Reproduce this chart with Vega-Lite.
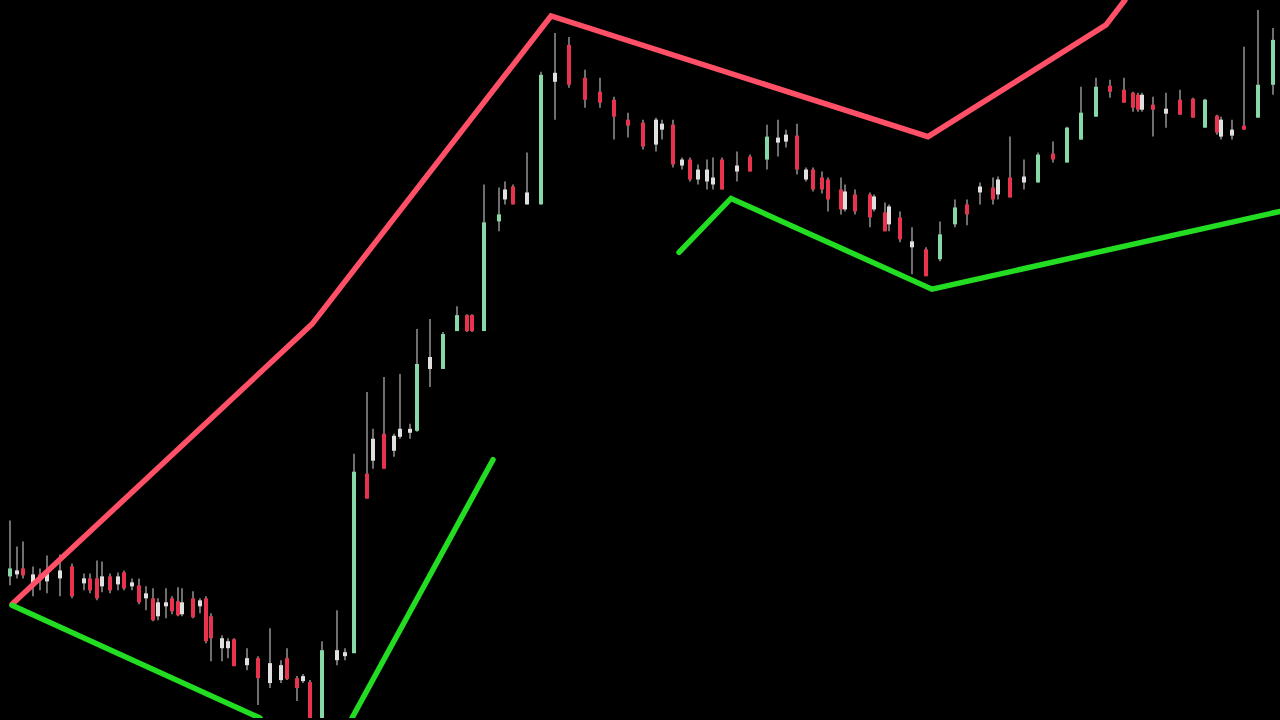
{
  "$schema": "https://vega.github.io/schema/vega-lite/v6.json",
  "width": 1280,
  "height": 720,
  "autosize": {"type": "fit", "contains": "padding"},
  "padding": 0,
  "background": "#000000",
  "config": {"view": {"stroke": null}, "axis": {"disable": true}},
  "datasets": {
    "candles": [
      {"t":10,"h":522,"l":587,"top":570,"bot":578,"dir":"up"},
      {"t":17,"h":548,"l":580,"top":572,"bot":576,"dir":"doji"},
      {"t":23,"h":543,"l":580,"top":570,"bot":577,"dir":"down"},
      {"t":33,"h":568,"l":598,"top":576,"bot":588,"dir":"doji"},
      {"t":40,"h":570,"l":592,"top":576,"bot":582,"dir":"down"},
      {"t":47,"h":557,"l":595,"top":575,"bot":583,"dir":"doji"},
      {"t":60,"h":556,"l":598,"top":572,"bot":580,"dir":"doji"},
      {"t":72,"h":565,"l":600,"top":568,"bot":598,"dir":"down"},
      {"t":84,"h":575,"l":592,"top":580,"bot":585,"dir":"doji"},
      {"t":90,"h":575,"l":595,"top":580,"bot":592,"dir":"down"},
      {"t":97,"h":562,"l":602,"top":580,"bot":600,"dir":"down"},
      {"t":102,"h":563,"l":594,"top":578,"bot":588,"dir":"doji"},
      {"t":110,"h":575,"l":595,"top":578,"bot":592,"dir":"down"},
      {"t":118,"h":574,"l":592,"top":578,"bot":586,"dir":"doji"},
      {"t":124,"h":572,"l":592,"top":574,"bot":590,"dir":"down"},
      {"t":132,"h":580,"l":592,"top":584,"bot":588,"dir":"doji"},
      {"t":139,"h":580,"l":606,"top":587,"bot":604,"dir":"down"},
      {"t":146,"h":588,"l":612,"top":595,"bot":600,"dir":"doji"},
      {"t":153,"h":590,"l":623,"top":600,"bot":622,"dir":"down"},
      {"t":158,"h":600,"l":622,"top":604,"bot":618,"dir":"doji"},
      {"t":166,"h":590,"l":620,"top":604,"bot":608,"dir":"doji"},
      {"t":172,"h":598,"l":616,"top":600,"bot":613,"dir":"down"},
      {"t":178,"h":589,"l":618,"top":603,"bot":617,"dir":"down"},
      {"t":182,"h":590,"l":618,"top":604,"bot":616,"dir":"doji"},
      {"t":193,"h":593,"l":620,"top":600,"bot":619,"dir":"down"},
      {"t":200,"h":600,"l":615,"top":602,"bot":608,"dir":"doji"},
      {"t":206,"h":598,"l":645,"top":600,"bot":643,"dir":"down"},
      {"t":211,"h":615,"l":663,"top":618,"bot":640,"dir":"down"},
      {"t":222,"h":637,"l":663,"top":640,"bot":650,"dir":"doji"},
      {"t":228,"h":640,"l":660,"top":643,"bot":650,"dir":"doji"},
      {"t":234,"h":640,"l":668,"top":641,"bot":668,"dir":"down"},
      {"t":247,"h":650,"l":672,"top":660,"bot":667,"dir":"doji"},
      {"t":258,"h":658,"l":707,"top":660,"bot":680,"dir":"down"},
      {"t":270,"h":630,"l":690,"top":665,"bot":685,"dir":"doji"},
      {"t":281,"h":662,"l":685,"top":667,"bot":682,"dir":"doji"},
      {"t":287,"h":650,"l":682,"top":660,"bot":681,"dir":"down"},
      {"t":297,"h":678,"l":703,"top":680,"bot":690,"dir":"down"},
      {"t":303,"h":676,"l":685,"top":678,"bot":683,"dir":"doji"},
      {"t":310,"h":682,"l":720,"top":684,"bot":720,"dir":"down"},
      {"t":322,"h":643,"l":720,"top":652,"bot":720,"dir":"up"},
      {"t":337,"h":612,"l":667,"top":652,"bot":662,"dir":"doji"},
      {"t":345,"h":650,"l":662,"top":654,"bot":658,"dir":"doji"},
      {"t":354,"h":455,"l":655,"top":473,"bot":655,"dir":"up"},
      {"t":367,"h":393,"l":500,"top":475,"bot":500,"dir":"down"},
      {"t":373,"h":430,"l":470,"top":440,"bot":462,"dir":"doji"},
      {"t":384,"h":378,"l":470,"top":435,"bot":470,"dir":"down"},
      {"t":394,"h":435,"l":458,"top":437,"bot":452,"dir":"doji"},
      {"t":400,"h":375,"l":440,"top":430,"bot":438,"dir":"doji"},
      {"t":410,"h":425,"l":440,"top":430,"bot":434,"dir":"doji"},
      {"t":417,"h":330,"l":433,"top":365,"bot":432,"dir":"up"},
      {"t":430,"h":320,"l":388,"top":358,"bot":370,"dir":"doji"},
      {"t":443,"h":333,"l":370,"top":335,"bot":370,"dir":"up"},
      {"t":457,"h":307,"l":332,"top":316,"bot":332,"dir":"up"},
      {"t":467,"h":315,"l":333,"top":316,"bot":332,"dir":"down"},
      {"t":472,"h":315,"l":333,"top":316,"bot":332,"dir":"down"},
      {"t":484,"h":185,"l":332,"top":223,"bot":332,"dir":"up"},
      {"t":499,"h":188,"l":232,"top":215,"bot":222,"dir":"up"},
      {"t":505,"h":182,"l":205,"top":190,"bot":200,"dir":"doji"},
      {"t":513,"h":185,"l":205,"top":187,"bot":205,"dir":"down"},
      {"t":527,"h":153,"l":205,"top":193,"bot":205,"dir":"doji"},
      {"t":541,"h":72,"l":205,"top":75,"bot":205,"dir":"up"},
      {"t":555,"h":33,"l":120,"top":73,"bot":82,"dir":"doji"},
      {"t":569,"h":37,"l":88,"top":45,"bot":85,"dir":"down"},
      {"t":585,"h":70,"l":108,"top":78,"bot":100,"dir":"down"},
      {"t":600,"h":78,"l":108,"top":92,"bot":103,"dir":"down"},
      {"t":614,"h":97,"l":140,"top":100,"bot":117,"dir":"down"},
      {"t":628,"h":113,"l":138,"top":120,"bot":126,"dir":"down"},
      {"t":643,"h":120,"l":150,"top":123,"bot":147,"dir":"down"},
      {"t":656,"h":118,"l":152,"top":120,"bot":145,"dir":"doji"},
      {"t":662,"h":120,"l":140,"top":124,"bot":130,"dir":"doji"},
      {"t":673,"h":120,"l":168,"top":125,"bot":165,"dir":"down"},
      {"t":682,"h":158,"l":170,"top":160,"bot":166,"dir":"doji"},
      {"t":690,"h":158,"l":182,"top":160,"bot":180,"dir":"down"},
      {"t":698,"h":165,"l":185,"top":170,"bot":180,"dir":"doji"},
      {"t":707,"h":160,"l":190,"top":170,"bot":182,"dir":"doji"},
      {"t":713,"h":158,"l":190,"top":178,"bot":185,"dir":"doji"},
      {"t":722,"h":158,"l":190,"top":160,"bot":190,"dir":"down"},
      {"t":737,"h":152,"l":182,"top":166,"bot":172,"dir":"doji"},
      {"t":750,"h":155,"l":172,"top":157,"bot":172,"dir":"down"},
      {"t":767,"h":125,"l":170,"top":137,"bot":160,"dir":"up"},
      {"t":778,"h":120,"l":157,"top":138,"bot":143,"dir":"doji"},
      {"t":786,"h":130,"l":148,"top":135,"bot":142,"dir":"doji"},
      {"t":797,"h":124,"l":175,"top":136,"bot":170,"dir":"down"},
      {"t":806,"h":168,"l":182,"top":170,"bot":180,"dir":"doji"},
      {"t":813,"h":168,"l":192,"top":170,"bot":190,"dir":"down"},
      {"t":822,"h":172,"l":194,"top":178,"bot":190,"dir":"down"},
      {"t":828,"h":178,"l":212,"top":180,"bot":200,"dir":"down"},
      {"t":841,"h":178,"l":215,"top":190,"bot":210,"dir":"down"},
      {"t":845,"h":185,"l":212,"top":192,"bot":210,"dir":"doji"},
      {"t":855,"h":190,"l":215,"top":195,"bot":212,"dir":"down"},
      {"t":870,"h":193,"l":228,"top":195,"bot":218,"dir":"down"},
      {"t":874,"h":195,"l":212,"top":197,"bot":210,"dir":"doji"},
      {"t":885,"h":203,"l":232,"top":213,"bot":232,"dir":"down"},
      {"t":889,"h":205,"l":232,"top":207,"bot":225,"dir":"doji"},
      {"t":900,"h":212,"l":243,"top":218,"bot":240,"dir":"down"},
      {"t":912,"h":228,"l":275,"top":242,"bot":248,"dir":"doji"},
      {"t":926,"h":248,"l":277,"top":250,"bot":277,"dir":"down"},
      {"t":940,"h":222,"l":262,"top":235,"bot":260,"dir":"up"},
      {"t":955,"h":200,"l":228,"top":208,"bot":225,"dir":"up"},
      {"t":967,"h":200,"l":226,"top":205,"bot":215,"dir":"down"},
      {"t":980,"h":183,"l":205,"top":187,"bot":193,"dir":"doji"},
      {"t":993,"h":178,"l":205,"top":188,"bot":200,"dir":"down"},
      {"t":998,"h":177,"l":200,"top":180,"bot":195,"dir":"doji"},
      {"t":1010,"h":137,"l":198,"top":178,"bot":198,"dir":"down"},
      {"t":1024,"h":160,"l":190,"top":177,"bot":183,"dir":"doji"},
      {"t":1038,"h":153,"l":183,"top":155,"bot":183,"dir":"up"},
      {"t":1053,"h":142,"l":163,"top":154,"bot":160,"dir":"down"},
      {"t":1067,"h":127,"l":163,"top":128,"bot":163,"dir":"up"},
      {"t":1081,"h":87,"l":140,"top":113,"bot":140,"dir":"up"},
      {"t":1096,"h":78,"l":117,"top":87,"bot":117,"dir":"up"},
      {"t":1110,"h":80,"l":98,"top":86,"bot":92,"dir":"down"},
      {"t":1124,"h":78,"l":103,"top":90,"bot":103,"dir":"down"},
      {"t":1133,"h":92,"l":112,"top":93,"bot":108,"dir":"down"},
      {"t":1138,"h":93,"l":112,"top":95,"bot":110,"dir":"down"},
      {"t":1142,"h":93,"l":112,"top":95,"bot":110,"dir":"doji"},
      {"t":1153,"h":97,"l":137,"top":105,"bot":110,"dir":"down"},
      {"t":1166,"h":93,"l":128,"top":109,"bot":114,"dir":"doji"},
      {"t":1180,"h":90,"l":115,"top":100,"bot":115,"dir":"down"},
      {"t":1193,"h":98,"l":118,"top":99,"bot":118,"dir":"down"},
      {"t":1205,"h":99,"l":128,"top":100,"bot":128,"dir":"up"},
      {"t":1217,"h":115,"l":135,"top":116,"bot":133,"dir":"down"},
      {"t":1221,"h":117,"l":140,"top":120,"bot":137,"dir":"doji"},
      {"t":1232,"h":120,"l":140,"top":130,"bot":136,"dir":"doji"},
      {"t":1244,"h":47,"l":130,"top":126,"bot":130,"dir":"down"},
      {"t":1258,"h":10,"l":118,"top":85,"bot":118,"dir":"up"},
      {"t":1273,"h":28,"l":95,"top":40,"bot":85,"dir":"up"}
    ],
    "lines": [
      {"series":"resistance","i":0,"t":12,"y":606},
      {"series":"resistance","i":1,"t":312,"y":325},
      {"series":"resistance","i":2,"t":551,"y":16},
      {"series":"resistance","i":3,"t":928,"y":137},
      {"series":"resistance","i":4,"t":1106,"y":25},
      {"series":"resistance","i":5,"t":1125,"y":0},
      {"series":"support1","i":0,"t":12,"y":607},
      {"series":"support1","i":1,"t":260,"y":720},
      {"series":"support2","i":0,"t":352,"y":720},
      {"series":"support2","i":1,"t":493,"y":461},
      {"series":"support3","i":0,"t":679,"y":253},
      {"series":"support3","i":1,"t":731,"y":199},
      {"series":"support3","i":2,"t":932,"y":290},
      {"series":"support3","i":3,"t":1280,"y":212}
    ]
  },
  "layer": [
    {
      "data": {"name": "candles"},
      "mark": {"type": "rule", "strokeWidth": 1.2, "color": "#d9d9d9", "opacity": 0.85},
      "encoding": {
        "x": {"field": "t", "type": "quantitative", "scale": {"domain": [0, 1280], "nice": false, "zero": false}},
        "y": {"field": "h", "type": "quantitative", "scale": {"domain": [0, 720], "nice": false, "zero": false, "reverse": true}},
        "y2": {"field": "l"}
      }
    },
    {
      "data": {"name": "candles"},
      "mark": {"type": "rule", "strokeWidth": 4, "strokeCap": "butt"},
      "encoding": {
        "x": {"field": "t", "type": "quantitative"},
        "y": {"field": "top", "type": "quantitative"},
        "y2": {"field": "bot"},
        "color": {"field": "dir", "type": "nominal", "legend": null,
          "scale": {"domain": ["up", "down", "doji"], "range": ["#86d8a6", "#e8334f", "#e0e0e0"]}}
      }
    },
    {
      "data": {"name": "lines"},
      "mark": {"type": "line", "strokeWidth": 5.5, "strokeCap": "round", "strokeJoin": "miter", "clip": true},
      "encoding": {
        "x": {"field": "t", "type": "quantitative"},
        "y": {"field": "y", "type": "quantitative"},
        "order": {"field": "i", "type": "quantitative"},
        "detail": {"field": "series", "type": "nominal"},
        "stroke": {"field": "series", "type": "nominal", "legend": null,
          "scale": {"domain": ["resistance", "support1", "support2", "support3"], "range": ["#ff5068", "#22dd22", "#22dd22", "#22dd22"]}}
      }
    }
  ],
  "resolve": {"scale": {"color": "independent", "stroke": "independent"}}
}
